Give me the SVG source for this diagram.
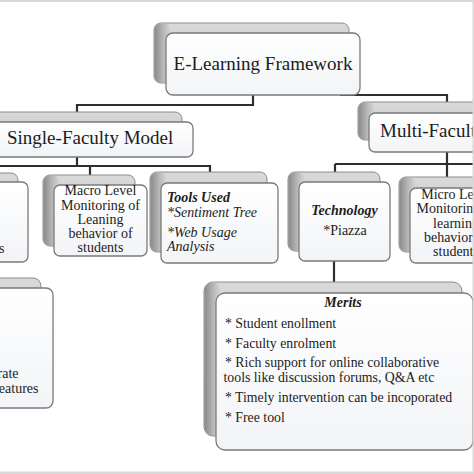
<svg xmlns="http://www.w3.org/2000/svg" width="474" height="474" viewBox="0 0 474 474">
<defs>
<linearGradient id="strip" x1="0" y1="0" x2="1" y2="0">
<stop offset="0" stop-color="#8a8a8a"/>
<stop offset="0.55" stop-color="#b8b8b8"/>
<stop offset="1" stop-color="#d4d4d4"/>
</linearGradient>
<linearGradient id="backg" x1="0" y1="0" x2="0" y2="1">
<stop offset="0" stop-color="#d9d9d9"/>
<stop offset="1" stop-color="#c4c4c4"/>
</linearGradient>
<linearGradient id="frontg" x1="0" y1="0" x2="0" y2="1">
<stop offset="0" stop-color="#ffffff"/>
<stop offset="1" stop-color="#f2f4f7"/>
</linearGradient>
</defs>
<style>
.back{fill:url(#backg);stroke:#8c8c8c;stroke-width:1}
.strip{fill:url(#strip);stroke:none}
.front{fill:url(#frontg);stroke:#7a7a7a;stroke-width:1.3}
.conn{fill:none;stroke:#2e2e2e;stroke-width:2.2}
.t{font-family:"Liberation Serif","Times New Roman",serif;fill:#1c1c1c}
.big{font-size:19px}
.m{font-size:14px}
.mr{font-size:13.8px}
.bi{font-weight:bold;font-style:italic}
.it{font-style:italic}
.c{text-anchor:middle}
.e{text-anchor:end}
.frame{fill:#d9d9d9}
</style>
<rect width="474" height="474" fill="#ffffff"/>

<g id="connectors">
<path class="conn" d="M253,95 V105 H77 V113"/>
<path class="conn" d="M340,95 H447 V103"/>
<path class="conn" d="M77,157 V166"/>
<path class="conn" d="M-2,166 H210 V173"/>
<path class="conn" d="M90,166 V176"/>
<path class="conn" d="M447,152 V178"/>
<path class="conn" d="M335,164 H476"/>
<path class="conn" d="M335,164 V173"/>
<path class="conn" d="M334,261 V283"/>
</g>

<g id="node-elearning">
<rect class="back" x="154" y="23" width="195" height="60" rx="7"/>
<rect class="strip" x="154.5" y="23.5" width="16" height="59" rx="6.5"/>
<rect class="front" x="166" y="33" width="194" height="62" rx="7"/>
<text class="t big c" x="263" y="70">E-Learning Framework</text>
</g>

<g id="node-single">
<rect class="back" x="-12" y="112" width="194" height="36" rx="7"/>
<rect class="front" x="-12" y="122" width="205" height="35" rx="6"/>
<text class="t big" x="7" y="144">Single-Faculty Model</text>
</g>

<g id="node-multi">
<rect class="back" x="358" y="102" width="150" height="38" rx="7"/>
<rect class="strip" x="358.5" y="102.5" width="16" height="37" rx="6.5"/>
<rect class="front" x="369" y="113" width="150" height="39" rx="6"/>
<text class="t big" x="380" y="137">Multi-Faculty Model</text>
</g>

<g id="node-left">
<rect class="back" x="-12" y="173" width="30" height="78" rx="7"/>
<rect class="front" x="-12" y="182" width="40" height="80" rx="6"/>
<text class="t m e" x="4.5" y="253">s</text>
</g>

<g id="node-macro">
<rect class="back" x="43" y="175" width="92" height="71" rx="7"/>
<rect class="strip" x="43.5" y="175.5" width="16" height="70" rx="6.5"/>
<rect class="front" x="54" y="185" width="93" height="71" rx="6"/>
<text class="t m c" x="100.5" y="195">Macro Level</text>
<text class="t m c" x="100.5" y="209.5">Monitoring of</text>
<text class="t m c" x="100.5" y="223.5">Leaning</text>
<text class="t m c" x="100.5" y="238">behavior of</text>
<text class="t m c" x="100.5" y="252">students</text>
</g>

<g id="node-tools">
<rect class="back" x="150" y="172" width="117" height="80" rx="7"/>
<rect class="strip" x="150.5" y="172.5" width="16" height="79" rx="6.5"/>
<rect class="front" x="161" y="183" width="117" height="80" rx="6"/>
<text class="t m bi" x="167" y="202">Tools Used</text>
<text class="t m it" x="167" y="217">*Sentiment Tree</text>
<text class="t m it" x="167" y="236.5">*Web Usage</text>
<text class="t m it" x="167" y="250.5">Analysis</text>
</g>

<g id="node-technology">
<rect class="back" x="288" y="172" width="92" height="79" rx="7"/>
<rect class="strip" x="288.5" y="172.5" width="16" height="78" rx="6.5"/>
<rect class="front" x="299" y="182" width="91" height="79" rx="6"/>
<text class="t m bi c" x="344.5" y="215">Technology</text>
<text class="t m c" x="345" y="234.5">*Piazza</text>
</g>

<g id="node-micro">
<rect class="back" x="399" y="177" width="120" height="75" rx="7"/>
<rect class="strip" x="399.5" y="177.5" width="16" height="74" rx="6.5"/>
<rect class="front" x="410" y="188" width="120" height="75" rx="6"/>
<text class="t m c" x="456" y="199">Micro Level</text>
<text class="t m c" x="456" y="213.3">Monitoring of</text>
<text class="t m c" x="456" y="227.6">learning</text>
<text class="t m c" x="456" y="241.9">behavior of</text>
<text class="t m c" x="456" y="256.2">students</text>
</g>

<g id="node-bottomleft">
<rect class="back" x="-12" y="278" width="53" height="120" rx="8"/>
<rect class="front" x="-12" y="288" width="65" height="120" rx="7"/>
<text class="t m e" x="18.5" y="378">rate</text>
<text class="t m e" x="38.5" y="392.5">eatures</text>
</g>

<g id="node-merits">
<rect class="back" x="204" y="282" width="258" height="154" rx="9"/>
<rect class="strip" x="204.5" y="282.5" width="16" height="153" rx="8.5"/>
<rect class="front" x="216" y="293" width="257" height="157" rx="9"/>
<text class="t m bi c" x="343" y="307">Merits</text>
<text class="t mr" x="225" y="327.5">* Student enollment</text>
<text class="t mr" x="225" y="347.5">* Faculty enrolment</text>
<text class="t mr" x="225" y="367.3">* Rich support for online collaborative</text>
<text class="t mr" x="223.5" y="381.7">tools like discussion forums, Q&amp;A etc</text>
<text class="t mr" x="225" y="401.7">* Timely intervention can be incoporated</text>
<text class="t mr" x="225" y="421.7">* Free tool</text>
</g>

<rect class="frame" x="0" y="0" width="474" height="2"/>
<rect class="frame" x="0" y="471.5" width="474" height="2.5"/>
<rect class="frame" x="472.5" y="0" width="1.5" height="474"/>
</svg>
